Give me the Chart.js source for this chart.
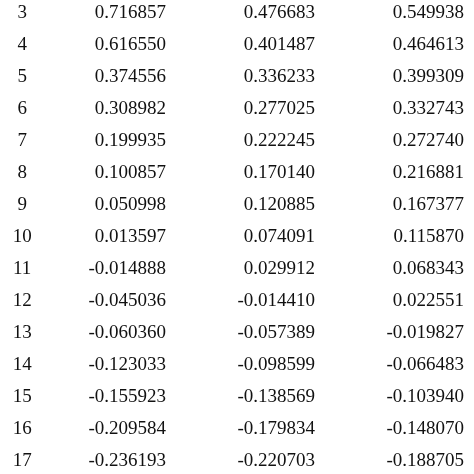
<!DOCTYPE html>
<html><head><meta charset="utf-8">
<script src="https://cdn.jsdelivr.net/npm/chart.js@4"></script>
<style>html,body{margin:0;padding:0;background:#fff}#w{width:474px;height:474px}</style>
</head><body><div id="w"><canvas id="c"></canvas></div>
<script>
const rows = [3,4,5,6,7,8,9,10,11,12,13,14,15,16,17];
const col1 = ["0.716857","0.616550","0.374556","0.308982","0.199935","0.100857","0.050998","0.013597","-0.014888","-0.045036","-0.060360","-0.123033","-0.155923","-0.209584","-0.236193"];
const col2 = ["0.476683","0.401487","0.336233","0.277025","0.222245","0.170140","0.120885","0.074091","0.029912","-0.014410","-0.057389","-0.098599","-0.138569","-0.179834","-0.220703"];
const col3 = ["0.549938","0.464613","0.399309","0.332743","0.272740","0.216881","0.167377","0.115870","0.068343","0.022551","-0.019827","-0.066483","-0.103940","-0.148070","-0.188705"];
const columns = [col1, col2, col3];

const tablePlugin = {
  id: 'tableText',
  afterDraw(chart) {
    const {ctx, scales:{x, y}} = chart;
    ctx.save();
    ctx.fillStyle = '#111';
    ctx.font = '19px "Liberation Serif", serif';
    ctx.textBaseline = 'middle';
    rows.forEach((r, i) => {
      const py = y.getPixelForValue(r);
      ctx.textAlign = 'center';
      ctx.fillText(String(r), x.getPixelForValue(0.035), py);
      ctx.textAlign = 'right';
      columns.forEach((col, c) => {
        ctx.fillText(col[i], x.getPixelForValue(c + 1), py);
      });
    });
    ctx.restore();
  }
};

new Chart(document.getElementById('c'), {
  type: 'scatter',
  data: { datasets: [{ data: rows.map(r => ({x: 0, y: r})), pointRadius: 0, showLine: false }] },
  options: {
    responsive: true, maintainAspectRatio: false, animation: false,
    layout: { padding: 0 },
    plugins: { legend: { display: false }, tooltip: { enabled: false } },
    scales: {
      x: { type: 'linear', display: false, min: -17/149, max: 457/149 },
      y: { type: 'linear', display: false, reverse: true, min: 2.6, max: 2.6 + 474/32 }
    }
  },
  plugins: [tablePlugin]
});
</script></body></html>
